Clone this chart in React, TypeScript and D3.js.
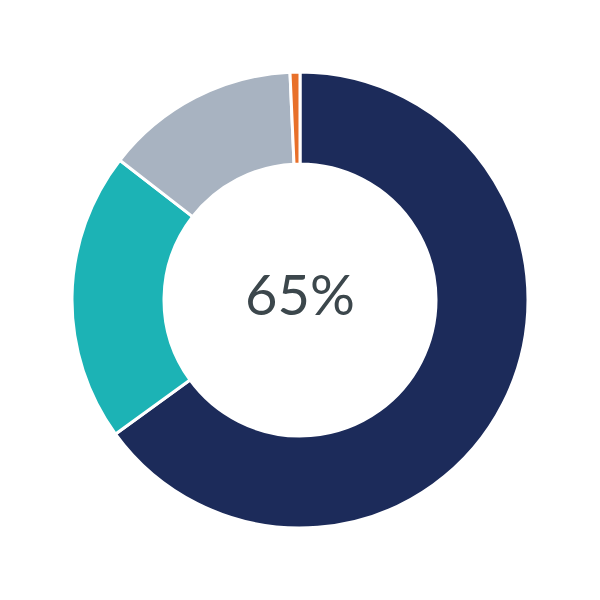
import { useMemo } from 'react';
import * as d3 from 'd3';

// Segment shares, clockwise from 12 o'clock
const labels = ['Primary', 'Secondary', 'Other', 'Minor'];
const shares = [65, 20.5, 13.8, 0.7];
const colors = ['#1c2b5a', '#1cb3b5', '#a8b3c1', '#e8702a'];
const centerLabel = '65%';

const width = 600;
const height = 600;
const outerRadius = 228;
const innerRadius = 136;

export default function App() {
  const arcs = useMemo(() => {
    const pie = d3
      .pie<number>()
      .sort(null)
      .value((d) => d)
      .startAngle(0)
      .endAngle(2 * Math.PI);
    return pie(shares);
  }, []);

  const arcGen = d3
    .arc<d3.PieArcDatum<number>>()
    .innerRadius(innerRadius)
    .outerRadius(outerRadius);

  return (
    <div style={{ position: 'fixed', left: 0, top: 0, width, height, background: '#fff' }}>
      <svg width={width} height={height}>
        <g transform={`translate(${width / 2},${height / 2})`}>
          {arcs.map((a, i) => (
            <path
              key={labels[i]}
              d={arcGen(a) ?? ''}
              fill={colors[i]}
              stroke="#fff"
              strokeWidth={3}
              strokeLinejoin="round"
            />
          ))}
          <text
            x={0}
            y={15}
            textAnchor="middle"
            fontFamily="Lato, 'Open Sans', sans-serif"
            fontSize={56}
            fill="#3c474c"
          >
            {centerLabel}
          </text>
        </g>
      </svg>
    </div>
  );
}
